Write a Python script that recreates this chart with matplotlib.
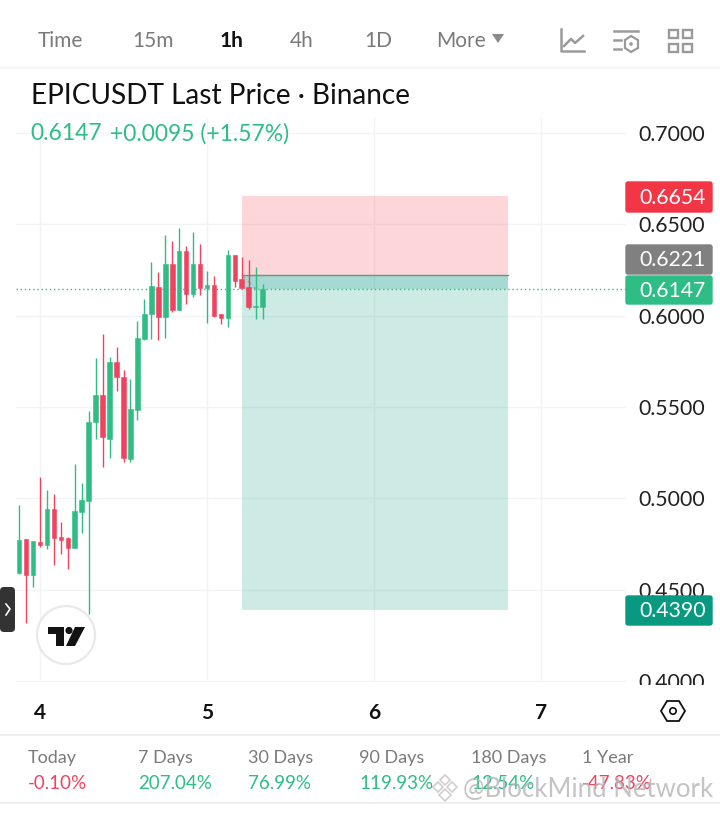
import matplotlib
matplotlib.use("Agg")
import matplotlib.pyplot as plt
from matplotlib.patches import Rectangle, FancyBboxPatch, Circle, Polygon

plt.rcParams['font.family'] = ['Lato', 'DejaVu Sans']

# hourly candles, day 4 00:00 is hour 0
hours = list(range(-3, 33))
opens = [.4591, .4778, .4580, .4761, .4745, .4942, .4788, .4783, .4728, .4925,
         .4986, .5418, .5566, .5325, .5746, .5664, .5215, .5484, .5872, .6009,
         .6157, .5993, .6283, .6031, .6354, .6119, .6283, .6152, .6168, .6009,
         .5987, .6332, .6201, .6157, .6048, .6048]
highs = [.4964, .4778, .4767, .5117, .5046, .5024, .4871, .4788, .5188, .5084,
         .5478, .5768, .5900, .5774, .5829, .5703, .5653, .5971, .6091, .6294,
         .6239, .6442, .6409, .6480, .6381, .6458, .6392, .6245, .6217, .6009,
         .6360, .6332, .6321, .6305, .6266, .6173]
lows = [.4586, .4318, .4515, .4734, .4723, .4635, .4695, .4613, .4728, .4810,
        .4367, .5325, .5172, .5221, .5588, .5199, .5199, .5429, .5867, .5872,
        .5867, .5878, .6020, .6031, .6064, .6102, .6113, .5960, .5993, .5954,
        .5938, .6157, .6152, .6037, .5982, .5982]
closes = [.4772, .4580, .4767, .4745, .4942, .4783, .4772, .4728, .4931, .4991,
          .5418, .5566, .5336, .5746, .5664, .5221, .5489, .5878, .6009, .6162,
          .5993, .6283, .6031, .6354, .6119, .6283, .6152, .6168, .5998, .5987,
          .6332, .6190, .6152, .6048, .6053, .6146]

price_ticks = [0.70, 0.65, 0.60, 0.55, 0.50, 0.45, 0.40]
day_ticks = [4, 5, 6, 7]

last_price = 0.6147
stop_price = 0.6654
entry_price = 0.6221
target_price = 0.4390
pos_start = 5.21
pos_end = 6.80

intervals = [('Time', 38, False), ('15m', 132, False), ('1h', 220, True),
             ('4h', 290, False), ('1D', 364, False), ('More', 436, False)]
stat_names = ['Today', '7 Days', '30 Days', '90 Days', '180 Days', '1 Year']
stat_values = ['-0.10%', '207.04%', '76.99%', '119.93%', '12.54%', '-47.83%']
stat_x = [28, 138, 248, 359, 471, 582]

UP = '#2EBD85'
DOWN = '#F0435F'
GRID = '#F2F3F5'
GREY = '#7A7A7A'

fig = plt.figure(figsize=(7.2, 8.13), dpi=100)
W, H = 720, 813

# main chart, 0.70 at y=133 and 0.40 at y=681 in the picture
px_per_price = (681 - 133) / 0.30
left, right, top, bottom = 16, 626, 118, 682
ax = fig.add_axes([left / W, 1 - bottom / H, (right - left) / W, (bottom - top) / H])
ax.set_xlim(4 + (left - 40) / 167, 4 + (right - 40) / 167)
ax.set_ylim(0.70 - (bottom - 133) / px_per_price, 0.70 + (133 - top) / px_per_price)
for s in ax.spines.values():
    s.set_visible(False)
ax.set_yticks(price_ticks)
ax.set_yticklabels([f'{p:.4f}' for p in price_ticks], fontsize=15.3, color='#222222')
ax.set_xticks(day_ticks)
ax.set_xticklabels([str(d) for d in day_ticks], fontsize=15, fontweight='bold', color='#111111')
ax.yaxis.tick_right()
ax.tick_params(axis='y', length=0, pad=9)
ax.tick_params(axis='x', length=0, pad=15)
ax.grid(True, color=GRID, linewidth=1)
ax.set_axisbelow(True)

# position tool
ax.add_patch(Rectangle((pos_start, entry_price), pos_end - pos_start, stop_price - entry_price,
                       facecolor='#F23645', alpha=0.2, edgecolor='none', zorder=1))
ax.add_patch(Rectangle((pos_start, target_price), pos_end - pos_start, entry_price - target_price,
                       facecolor='#089981', alpha=0.2, edgecolor='none', zorder=1))
ax.add_patch(Rectangle((pos_start, last_price), pos_end - pos_start, entry_price - last_price,
                       facecolor='#089981', alpha=0.2, edgecolor='none', zorder=1))
ax.plot([pos_start, pos_end], [entry_price, entry_price], color='#6F8F88', linewidth=1, zorder=2)
ax.axhline(last_price, color=UP, linewidth=1, linestyle=(0, (1, 2)), zorder=2)

# dashed link from the entry to the last candle
ax.plot([pos_start, 4 + 31 / 24], [entry_price, last_price], color='#9A9EA6',
        linewidth=1, linestyle=(0, (3, 3)), zorder=2.5)

# candles
width = 4.6 / 167
for h, o, hi, lo, c in zip(hours, opens, highs, lows, closes):
    x = 4 + h / 24
    col = UP if c >= o else DOWN
    ax.plot([x, x], [lo, hi], color=col, linewidth=1, zorder=3, solid_capstyle='butt')
    ax.add_patch(Rectangle((x - width / 2, min(o, c)), width, max(abs(c - o), 0.0005),
                           facecolor=col, edgecolor=col, linewidth=0.4, zorder=4))

# overlay in picture pixels for the app interface
ui = fig.add_axes([0, 0, 1, 1], facecolor='none')
ui.set_xlim(0, W)
ui.set_ylim(H, 0)
ui.axis('off')

ui.add_patch(Rectangle((0, 66), W, 3, facecolor='#F7F7F7', edgecolor='none'))
ui.add_patch(Rectangle((620, 685), 100, 14, facecolor='white', edgecolor='none'))
ui.plot([0, W], [735, 735], color='#EBEBEB', linewidth=1.2)
ui.plot([0, W], [803, 803], color='#EBEBEB', linewidth=1.2)

for name, x, bold in intervals:
    ui.text(x, 41, name, fontsize=15, va='center', ha='left',
            color='#111111' if bold else GREY, fontweight='bold' if bold else 'normal')
ui.add_patch(Polygon([(492, 34), (504, 34), (498, 43)], facecolor='#8A8A8A', edgecolor='none'))

# toolbar icons
icon = dict(color='#9A9A9A', linewidth=1.8)
ui.plot([561, 561, 584], [29, 51, 51], **icon)
ui.plot([564, 571, 575, 583], [46, 39, 43, 36], **icon)
ui.plot([614, 638], [31, 31], **icon)
ui.plot([614, 621], [40, 40], **icon)
ui.plot([614, 621], [49, 49], **icon)
ui.add_patch(Polygon([(631, 36), (638, 40), (638, 48), (631, 52), (625, 48), (625, 40)],
                     fill=False, edgecolor='#9A9A9A', linewidth=1.6))
ui.add_patch(Circle((631, 44), 1.8, facecolor='#9A9A9A', edgecolor='none'))
for gx in (669, 683):
    for gy in (30, 44):
        ui.add_patch(Rectangle((gx, gy), 9, 8, fill=False, edgecolor='#9A9A9A', linewidth=1.7))

# title and quote
ui.text(31, 96.5, 'EPICUSDT Last Price · Binance', fontsize=20.2, color='#111111', va='center')
ui.text(30, 134, '0.6147', fontsize=16.5, color=UP, va='center')
ui.text(110, 134, '+0.0095 (+1.57%)', fontsize=16.5, color=UP, va='center')

# price labels on the axis
labels = [(181, 213, stop_price, '#F23645'), (244, 275, entry_price, '#808080'),
          (275, 305, last_price, UP), (595, 626, target_price, '#089981')]
for y0, y1, value, col in labels:
    ui.add_patch(FancyBboxPatch((626, y0 + 1), 86, y1 - y0 - 2, boxstyle='round,pad=0,rounding_size=2',
                                facecolor=col, edgecolor=col, linewidth=1))
    ui.text(639, (y0 + y1) / 2 + 0.5, f'{value:.4f}', fontsize=15.3, color='white', va='center')

# left tab and logo
ui.add_patch(FancyBboxPatch((0, 587), 15, 45, boxstyle='round,pad=0,rounding_size=4',
                            facecolor='#333333', edgecolor='none'))
ui.plot([6, 10, 6], [604, 609, 615], color='white', linewidth=1.2)
ui.add_patch(Circle((66, 635), 29, facecolor='white', edgecolor='#E9E9E9', linewidth=1.6))
ui.add_patch(Polygon([(48, 627), (64, 627), (64, 646), (56, 646), (56, 634), (48, 634)],
                     facecolor='#131313', edgecolor='none'))
ui.add_patch(Circle((69, 630.5), 3.6, facecolor='#131313', edgecolor='none'))
ui.add_patch(Polygon([(75, 627), (85, 627), (75, 646), (66, 646)], facecolor='#131313', edgecolor='none'))

# settings hexagon
ui.add_patch(Polygon([(661, 711), (667, 701), (679, 701), (685, 711), (679, 721), (667, 721)],
                     fill=False, edgecolor='#111111', linewidth=1.3))
ui.add_patch(Circle((673, 711), 3.2, fill=False, edgecolor='#111111', linewidth=1.2))

# change table
for name, value, x in zip(stat_names, stat_values, stat_x):
    ui.text(x, 758, name, fontsize=13, color=GREY, va='center')
    ui.text(x, 783, value, fontsize=13.5, color=DOWN if value.startswith('-') else UP, va='center')

# watermark
for cx, cy, r in [(438, 787, 5), (452, 787, 5), (445, 780, 5), (445, 795, 6)]:
    ui.add_patch(Polygon([(cx - r, cy), (cx, cy - r), (cx + r, cy), (cx, cy + r)],
                         fill=False, edgecolor='#CFCFCF', linewidth=1.2))
ui.text(463, 789, '@BlockMind Network', fontsize=18.5, color='#B5B5B5', alpha=0.8, va='center')

fig.savefig('out.png', dpi=100)
